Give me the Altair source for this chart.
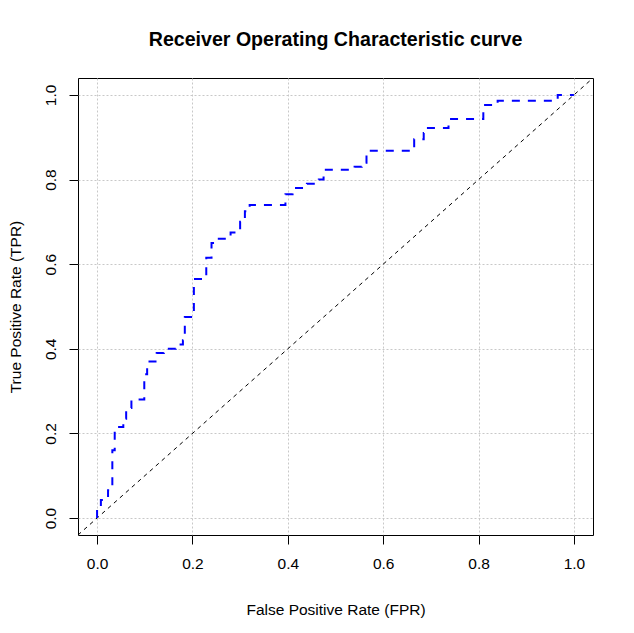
import altair as alt
import pandas as pd

# ROC corner points
fpr = [0, 0, 0.008, 0.023, 0.032, 0.037, 0.055, 0.061, 0.072, 0.099, 0.105, 0.125,
       0.14, 0.165, 0.18, 0.184, 0.203, 0.229, 0.24, 0.25, 0.28, 0.30, 0.31, 0.32,
       0.395, 0.41, 0.44, 0.465, 0.475, 0.54, 0.555, 0.565, 0.57, 0.665, 0.685,
       0.69, 0.737, 0.81, 0.84, 0.966, 1.0]
tpr = [0, 0.021, 0.043, 0.066, 0.16, 0.215, 0.235, 0.26, 0.28, 0.34, 0.37, 0.39,
       0.40, 0.41, 0.42, 0.475, 0.565, 0.615, 0.65, 0.66, 0.675, 0.70, 0.725, 0.74,
       0.765, 0.78, 0.79, 0.80, 0.823, 0.83, 0.84, 0.858, 0.868, 0.895, 0.91,
       0.922, 0.943, 0.976, 0.986, 1.0, 1.0]
diag = [-0.04, 1.04]
ticks = [0.0, 0.2, 0.4, 0.6, 0.8, 1.0]

roc = pd.DataFrame({"fpr": fpr, "tpr": tpr, "i": list(range(len(fpr)))})
dline = pd.DataFrame({"x": diag, "y": diag})

FONT = "Liberation Sans"
FS = 15.5
W, H = 515, 457

xscale = alt.Scale(domain=[-0.04, 1.04], nice=False, zero=False)
yscale = alt.Scale(domain=[-0.04, 1.04], nice=False, zero=False)

xaxis = alt.Axis(values=ticks, format=".1f", title="False Positive Rate (FPR)",
                 grid=True, gridColor="#c8c8c8", gridDash=[2, 2], gridWidth=1,
                 domain=False, tickColor="black", tickSize=9, tickWidth=1,
                 labelFont=FONT, labelFontSize=FS, labelColor="black",
                 labelPadding=12, labelFlush=False,
                 titleFont=FONT, titleFontSize=FS, titleFontWeight="normal",
                 titleColor="black", titleX=W / 2, titleY=74,
                 titleBaseline="middle", titleAlign="center")
yaxis = alt.Axis(values=ticks, format=".1f", title="True Positive Rate (TPR)",
                 grid=True, gridColor="#c8c8c8", gridDash=[2, 2], gridWidth=1,
                 domain=False, tickColor="black", tickSize=9, tickWidth=1,
                 labelFont=FONT, labelFontSize=FS, labelColor="black",
                 labelAngle=-90, labelAlign="center", labelBaseline="bottom",
                 labelPadding=11, labelFlush=False,
                 titleFont=FONT, titleFontSize=FS, titleFontWeight="normal",
                 titleColor="black", titleX=-62.5, titleY=H / 2, titleAngle=-90,
                 titleBaseline="middle", titleAlign="center")

curve = alt.Chart(roc).mark_line(
    color="#0000ff", strokeWidth=2, strokeDash=[8, 8], strokeCap="butt",
    interpolate="step-after", clip=True
).encode(
    x=alt.X("fpr:Q", scale=xscale, axis=xaxis),
    y=alt.Y("tpr:Q", scale=yscale, axis=yaxis),
    order=alt.Order("i:Q"),
)

diagonal = alt.Chart(dline).mark_line(
    color="black", strokeWidth=1, strokeDash=[4, 4], clip=True
).encode(
    x=alt.X("x:Q", scale=xscale),
    y=alt.Y("y:Q", scale=yscale),
)

chart = alt.layer(diagonal, curve).properties(
    width=W, height=H,
    title=alt.TitleParams("Receiver Operating Characteristic curve",
                          font=FONT, fontSize=19.6, fontWeight="bold",
                          color="black", anchor="middle", offset=27),
    autosize=alt.AutoSizeParams(type="none"),
    padding={"left": 70, "top": 70, "right": 30, "bottom": 90},
    background="white",
).configure_view(stroke="black", strokeWidth=1)

chart.save("out.html", embed_options={"renderer": "svg", "actions": False})
